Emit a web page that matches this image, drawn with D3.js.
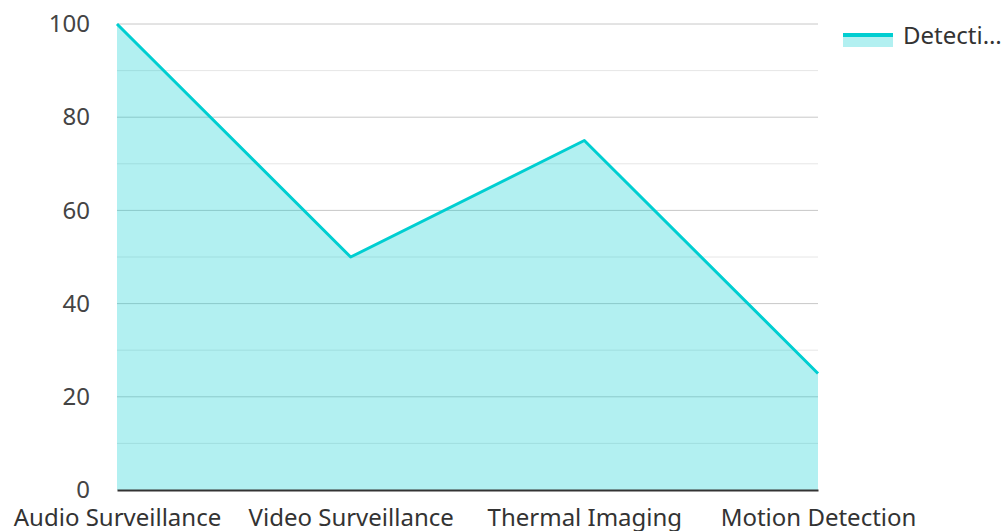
<!DOCTYPE html>
<html>
<head>
<meta charset="utf-8">
<script src="https://cdn.jsdelivr.net/npm/d3@7"></script>
<style>
  body { margin: 0; background: #fff; }
  svg, svg text { font-family: "Noto Sans", "Open Sans", sans-serif; }
</style>
</head>
<body>
<svg id="chart" width="1005" height="531"></svg>
<script>
const categories = ['Audio Surveillance', 'Video Surveillance', 'Thermal Imaging', 'Motion Detection'];
const values = [100, 50, 75, 25];
const seriesName = 'Detecti\u2026';
const majorTicks = [0, 20, 40, 60, 80, 100];
const minorTicks = [10, 30, 50, 70, 90];

const svg = d3.select('#chart'),
    cs = {
        color: '#00ced1',
        font: '"Noto Sans", "Open Sans", sans-serif',
        fontSize: 24,
        left: 117, right: 818, top: 24, bottom: 490
    };

const x = d3.scalePoint().domain(categories).range([cs.left, cs.right]);
const y = d3.scaleLinear().domain([0, 100]).range([cs.bottom, cs.top]);

// grid
svg.append('g').selectAll('line').data(minorTicks).enter().append('line')
    .attr('x1', cs.left).attr('x2', cs.right)
    .attr('y1', d => y(d)).attr('y2', d => y(d))
    .attr('stroke', '#e6e6e6').attr('stroke-width', 1);
svg.append('g').selectAll('line').data(majorTicks.filter(d => d > 0)).enter().append('line')
    .attr('x1', cs.left).attr('x2', cs.right)
    .attr('y1', d => y(d)).attr('y2', d => y(d))
    .attr('stroke', '#c8c8c8').attr('stroke-width', 1);

const pts = categories.map((c, i) => ({ c: c, v: values[i] }));

svg.append('path').datum(pts)
    .attr('fill', cs.color).attr('fill-opacity', 0.3)
    .attr('d', d3.area().x(d => x(d.c)).y0(y(0)).y1(d => y(d.v)));

svg.append('path').datum(pts)
    .attr('fill', 'none').attr('stroke', cs.color).attr('stroke-width', 3)
    .attr('stroke-linejoin', 'round')
    .attr('d', d3.line().x(d => x(d.c)).y(d => y(d.v)));

// y axis labels
const yAxis = d3.axisLeft(y).tickValues(majorTicks).tickSize(0).tickPadding(27);
const yg = svg.append('g').attr('transform', 'translate(' + cs.left + ',0)').call(yAxis)
    .attr('font-family', cs.font).attr('font-size', cs.fontSize);
yg.select('.domain').remove();
yg.selectAll('text').attr('fill', '#444');

// x axis
const xAxis = d3.axisBottom(x).tickSize(0).tickPadding(19);
const xg = svg.append('g').attr('transform', 'translate(0,' + cs.bottom + ')').call(xAxis)
    .attr('font-family', cs.font).attr('font-size', cs.fontSize);
xg.select('.domain').attr('stroke', '#333').attr('stroke-width', 2);
xg.selectAll('text').attr('fill', '#333');

// legend
const lg = svg.append('g').attr('transform', 'translate(843,35)');
lg.append('rect').attr('x', 0).attr('y', 0).attr('width', 50).attr('height', 12)
    .attr('fill', cs.color).attr('fill-opacity', 0.3);
lg.append('line').attr('x1', 0).attr('x2', 50).attr('y1', 0).attr('y2', 0)
    .attr('stroke', cs.color).attr('stroke-width', 4);
lg.append('text').attr('x', 60).attr('y', 9).attr('font-size', cs.fontSize).attr('fill', '#333')
    .attr('font-family', cs.font)
    .text(seriesName);
</script>
</body>
</html>
